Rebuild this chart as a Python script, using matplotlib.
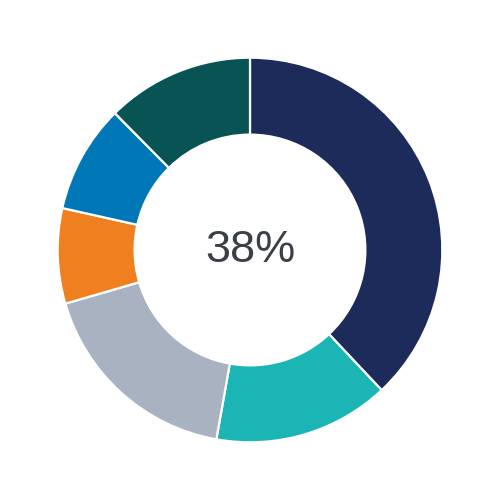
import matplotlib
matplotlib.use("Agg")
import matplotlib.pyplot as plt

# segment shares, clockwise from 12 o'clock
labels = ['Navy', 'Teal', 'Gray', 'Orange', 'Blue', 'Green']
values = [38, 14.8, 17.7, 8, 9.1, 12.4]
colors = ['#1c2b5a', '#1bb5b5', '#a8b2c0', '#f07f20', '#0077b6', '#085454']
center_text = '38%'

fig = plt.figure(figsize=(5, 5), dpi=100)
ax = fig.add_axes([0, 0, 1, 1])

ax.pie(values, colors=colors, startangle=90, counterclock=False, radius=1,
       wedgeprops=dict(width=0.4, edgecolor='white', linewidth=1.6))

ax.text(0, 0.0, center_text, ha='center', va='center', fontsize=32.5,
        color='#3b4047', family='Liberation Sans')

ax.set_xlim(-1.3, 1.3)
ax.set_ylim(-1.3, 1.3)
ax.set_aspect('equal')
ax.axis('off')

fig.savefig('out.png', dpi=100, facecolor='white')
